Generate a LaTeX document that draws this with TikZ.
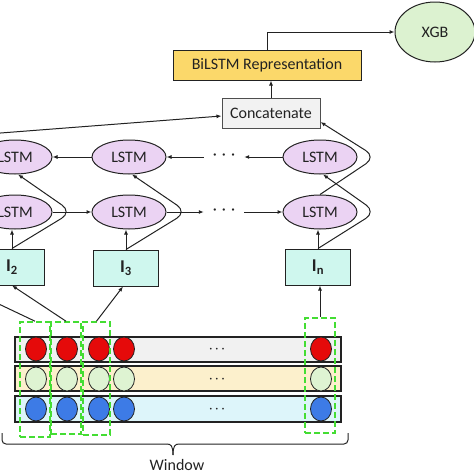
\documentclass[tikz,border=0pt]{standalone}
\usepackage{fontspec}
\setmainfont{Carlito}
\usetikzlibrary{arrows.meta,shapes.geometric}
\definecolor{xgbc}{HTML}{DCF2D0}
\definecolor{bilc}{HTML}{FBD86A}
\definecolor{concc}{HTML}{F2F2F2}
\definecolor{lstmc}{HTML}{EBD3F3}
\definecolor{ic}{HTML}{CFF7EE}
\definecolor{rowa}{HTML}{F1F1F1}
\definecolor{rowb}{HTML}{FCF0CC}
\definecolor{rowc}{HTML}{DDF5FA}
\definecolor{redc}{HTML}{E50A0A}
\definecolor{grnc}{HTML}{DEF3D2}
\definecolor{bluc}{HTML}{3D7BE6}
\definecolor{winc}{HTML}{44DD33}
\definecolor{inkc}{HTML}{222222}
\begin{document}
\begin{tikzpicture}[x=1pt,y=-1pt,
  every node/.style={font=\fontsize{16}{19}\selectfont, text=inkc},
  arr/.style={draw=inkc, line width=1pt, -{Latex[length=5pt,width=4pt]}},
  ln/.style={draw=inkc, line width=1pt},
  lstm/.style={ellipse, draw=inkc, fill=lstmc, line width=1pt, minimum width=74pt, minimum height=34pt, inner sep=0pt},
  ibox/.style={rectangle, draw=inkc, fill=ic, line width=1pt, minimum width=65pt, minimum height=36pt, inner sep=0pt, font=\fontsize{18}{20}\selectfont\bfseries},
  tbox/.style={rectangle, draw=inkc, line width=1pt, minimum height=30pt, inner sep=0pt},
  rowbox/.style={rectangle, draw=inkc, line width=1.1pt, minimum width=326pt, inner sep=0pt},
  dot/.style={ellipse, draw=inkc, line width=0.8pt, minimum width=21pt, minimum height=24pt, inner sep=0pt},
  win/.style={rectangle, draw=winc, line width=1.6pt, dash pattern=on 6pt off 3pt, inner sep=0pt},
  dotsnode/.style={inner sep=0pt, minimum width=40pt, minimum height=10pt}
]
\useasboundingbox (0,0) rectangle (474,474);

% top
\node[ellipse, draw=inkc, fill=xgbc, line width=1pt, minimum width=80pt, minimum height=60pt, inner sep=0pt] (xgb) at (435,32) {XGB};
\node[tbox, fill=bilc, minimum width=188pt] (bil) at (267,65) {BiLSTM Representation};
\node[tbox, fill=concc, minimum width=98pt, draw=inkc!80] (conc) at (271,113) {Concatenate};
\draw[arr] (bil.north) |- (xgb.west);
\draw[arr] (conc.north) -- (conc.north |- bil.south);

% LSTM rows
\node[lstm] (lb2) at (15,157) {LSTM};
\node[lstm] (lb3) at (129,157) {LSTM};
\node[lstm] (lbn) at (320,157) {LSTM};
\node[lstm] (lf2) at (15,212) {LSTM};
\node[lstm] (lf3) at (129,212) {LSTM};
\node[lstm] (lfn) at (320,212) {LSTM};
\node[dotsnode] (dtop) at (224,157) {·\hspace{5pt}·\hspace{5pt}·};
\node[dotsnode] (dbot) at (224,212) {·\hspace{5pt}·\hspace{5pt}·};

\draw[arr] (lb3.west) -- (lb2.east);
\draw[arr] (dtop.west) -- (lb3.east);
\draw[arr] (lbn.west) -- (dtop.east);
\draw[arr] (lf2.east) -- (lf3.west);
\draw[arr] (lf3.east) -- (dbot.west);
\draw[arr] (dbot.east) -- (lfn.west);

% input boxes
\node[ibox] (i2) at (12,267) {I\textsubscript{2}};
\node[ibox] (i3) at (126,268) {I\textsubscript{3}};
\node[ibox] (in) at (318,267) {I\textsubscript{n}};

\draw[arr] (i2.north) -- (i2.north |- lf2.south);
\draw[arr] (i3.north) -- (i3.north |- lf3.south);
\draw[arr] (in.north) -- (in.north |- lfn.south);

\draw[arr, rounded corners=12pt] (i2.north) -- (72,212) -- ([xshift=3pt]lb2.south);
\draw[arr, rounded corners=12pt] (i3.north) -- (187,212) -- ([xshift=3pt]lb3.south);
\draw[arr, rounded corners=12pt] (in.north) -- (376,212) -- ([xshift=3pt]lbn.south);
\draw[arr, rounded corners=12pt] (lfn.north) -- (376,157) -- ([yshift=-9pt]conc.east);

\coordinate (lbone) at (-80,139.2);
\draw[arr] (lbone) -- ([yshift=-3pt]conc.west);

% data rows
\node[rowbox, fill=rowa, minimum height=25pt] (ra) at (178,349.5) {};
\node[rowbox, fill=rowb, minimum height=25pt] (rb) at (178,378.5) {};
\node[rowbox, fill=rowc, minimum height=26pt] (rc) at (178,409) {};
\foreach \x/\n in {36/a,67/b,99/c,124/d,321/e}{
  \node[dot, fill=redc] (ca\n) at (\x,349) {};
  \node[dot, fill=grnc] (cb\n) at (\x,379) {};
  \node[dot, fill=bluc] (cc\n) at (\x,409) {};
}
\node[font=\fontsize{12}{12}\selectfont] (da) at (217,350) {·\hspace{3pt}·\hspace{3pt}·};
\node[font=\fontsize{12}{12}\selectfont] (db) at (217,380) {·\hspace{3pt}·\hspace{3pt}·};
\node[font=\fontsize{12}{12}\selectfont] (dc) at (217,410) {·\hspace{3pt}·\hspace{3pt}·};

% windows
\node[win, minimum width=30pt, minimum height=115pt] (w1) at (35,379.5) {};
\node[win, minimum width=30pt, minimum height=112pt] (w2) at (66,378) {};
\node[win, minimum width=27pt, minimum height=113pt] (w3) at (96.5,378.5) {};
\node[win, minimum width=30pt, minimum height=115pt] (wn) at (320,375.5) {};

\coordinate (ione) at (-40,285.6);
\draw[arr] (w1.north) -- (ione);
\draw[arr] (w2.north) -- (i2.south);
\draw[arr] (w3.north) -- ([xshift=-3pt]i3.south);
\draw[arr] (wn.north) -- (wn.north |- in.south);

% brace and label
\node (wlab) at (177,465) {Window};
\coordinate (bl) at (2,433);
\coordinate (br) at (348,433);
\coordinate (bt) at (173,455);
\draw[ln, rounded corners=4pt] (bl) -- (2,444) -- (167,444);
\draw[ln] (167,444) .. controls (171,444) and (173,446) .. (bt);
\draw[ln, rounded corners=4pt] (br) -- (348,444) -- (179,444);
\draw[ln] (179,444) .. controls (175,444) and (173,446) .. (bt);
\end{tikzpicture}
\end{document}
